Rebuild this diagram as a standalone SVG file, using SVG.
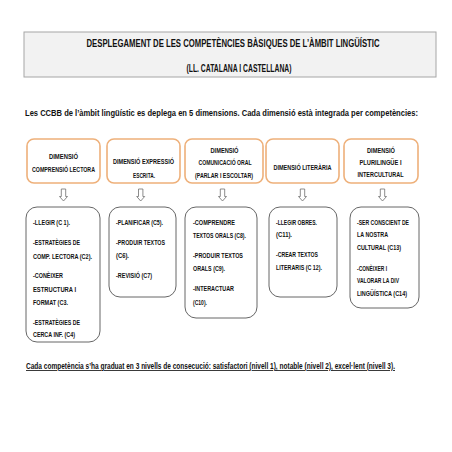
<svg xmlns="http://www.w3.org/2000/svg" width="452" height="452" viewBox="0 0 452 452">
<style>
text{font-family:"Liberation Sans Narrow","Liberation Sans","DejaVu Sans",sans-serif;font-weight:bold;fill:#111111;}
.t{font-size:10.5px;text-anchor:middle;}
.s{font-size:9.5px;}
.h{font-size:7.3px;text-anchor:middle;}
.b{font-size:7.2px;}
.f{font-size:8.3px;}
.dim{fill:#ffffff;stroke:#eeb07a;stroke-width:1.6;}
.comp{fill:#ffffff;stroke:#555555;stroke-width:0.9;}
.arr{fill:#ffffff;stroke:#6f6f6f;stroke-width:0.8;stroke-linejoin:miter;}
</style>
<defs>
<path id="darr" d="M-2.2,0 h4.4 v7.5 h1.8 l-4,4.5 l-4,-4.5 h1.8 z"/>
</defs>
<rect width="452" height="452" fill="#ffffff"/>
<g id="title">
<rect x="24" y="32" width="412" height="45" fill="#f2f2f2" stroke="#a6a6a6" stroke-width="1"/>
<text class="t" x="233" y="47" textLength="293" lengthAdjust="spacingAndGlyphs">DESPLEGAMENT DE LES COMPETÈNCIES BÀSIQUES DE L’ÀMBIT LINGÜÍSTIC</text>
<text class="t" x="239" y="71.5" textLength="105" lengthAdjust="spacingAndGlyphs">(LL. CATALANA I CASTELLANA)</text>
</g>
<g id="intro">
<text class="s" x="25" y="116" textLength="393" lengthAdjust="spacingAndGlyphs">Les CCBB de l’àmbit lingüístic es deplega en 5 dimensions. Cada dimensió està integrada per competències:</text>
</g>
<g id="dim1">
<rect class="dim" x="27" y="139" width="73" height="44" rx="7"/>
<text class="h" x="63.5" y="159" textLength="29" lengthAdjust="spacingAndGlyphs">DIMENSIÓ</text>
<text class="h" x="63.5" y="171.5" textLength="63" lengthAdjust="spacingAndGlyphs">COMPRENSIÓ LECTORA</text>
</g>
<g id="dim2">
<rect class="dim" x="107" y="139" width="73" height="44" rx="7"/>
<text class="h" x="143.5" y="164" textLength="61" lengthAdjust="spacingAndGlyphs">DIMENSIÓ EXPRESSIÓ</text>
<text class="h" x="144" y="177.5" textLength="22" lengthAdjust="spacingAndGlyphs">ESCRITA.</text>
</g>
<g id="dim3">
<rect class="dim" x="185" y="139" width="78" height="44" rx="7"/>
<text class="h" x="224.5" y="152.5" textLength="28" lengthAdjust="spacingAndGlyphs">DIMENSIÓ</text>
<text class="h" x="225" y="165" textLength="53" lengthAdjust="spacingAndGlyphs">COMUNICACIÓ ORAL</text>
<text class="h" x="224" y="178" textLength="58" lengthAdjust="spacingAndGlyphs">(PARLAR I ESCOLTAR)</text>
</g>
<g id="dim4">
<rect class="dim" x="266" y="139" width="73" height="44" rx="7"/>
<text class="h" x="302.5" y="169.5" textLength="58" lengthAdjust="spacingAndGlyphs">DIMENSIÓ LITERÀRIA</text>
</g>
<g id="dim5">
<rect class="dim" x="344" y="139" width="74" height="44" rx="7"/>
<text class="h" x="381" y="152.5" textLength="28" lengthAdjust="spacingAndGlyphs">DIMENSIÓ</text>
<text class="h" x="380.5" y="164.5" textLength="42" lengthAdjust="spacingAndGlyphs">PLURILINGÜE I</text>
<text class="h" x="380.5" y="176.5" textLength="46" lengthAdjust="spacingAndGlyphs">INTERCULTURAL</text>
</g>
<g id="connectors">
<use href="#darr" class="arr" x="63.5" y="189"/>
<use href="#darr" class="arr" x="140.7" y="189"/>
<use href="#darr" class="arr" x="222.5" y="189"/>
<use href="#darr" class="arr" x="302.5" y="189"/>
<use href="#darr" class="arr" x="382.5" y="189"/>
</g>
<g id="comp1">
<rect class="comp" x="26" y="207" width="74" height="135" rx="11"/>
<text class="b" x="33" y="224.5" textLength="37" lengthAdjust="spacingAndGlyphs">-LLEGIR (C 1).</text>
<text class="b" x="33" y="244.5" textLength="47" lengthAdjust="spacingAndGlyphs">-ESTRATÈGIES  DE</text>
<text class="b" x="33" y="258.5" textLength="59" lengthAdjust="spacingAndGlyphs">COMP. LECTORA (C2).</text>
<text class="b" x="33" y="277.5" textLength="30" lengthAdjust="spacingAndGlyphs">-CONÈIXER</text>
<text class="b" x="33" y="291.5" textLength="43" lengthAdjust="spacingAndGlyphs">ESTRUCTURA I</text>
<text class="b" x="33" y="304.5" textLength="35" lengthAdjust="spacingAndGlyphs">FORMAT (C3.</text>
<text class="b" x="33" y="324.5" textLength="47" lengthAdjust="spacingAndGlyphs">-ESTRATÈGIES DE</text>
<text class="b" x="33" y="337" textLength="42" lengthAdjust="spacingAndGlyphs">CERCA INF. (C4)</text>
</g>
<g id="comp2">
<rect class="comp" x="109" y="207" width="67" height="90" rx="11"/>
<text class="b" x="116" y="224.5" textLength="47" lengthAdjust="spacingAndGlyphs">-PLANIFICAR (C5).</text>
<text class="b" x="116" y="244.5" textLength="49" lengthAdjust="spacingAndGlyphs">-PRODUIR TEXTOS</text>
<text class="b" x="116" y="257.5" textLength="13" lengthAdjust="spacingAndGlyphs">(C6).</text>
<text class="b" x="116" y="277.5" textLength="36" lengthAdjust="spacingAndGlyphs">-REVISIÓ (C7)</text>
</g>
<g id="comp3">
<rect class="comp" x="185" y="207" width="72" height="111" rx="11"/>
<text class="b" x="193" y="224.5" textLength="42" lengthAdjust="spacingAndGlyphs">-COMPRENDRE</text>
<text class="b" x="193" y="237.5" textLength="53" lengthAdjust="spacingAndGlyphs">TEXTOS ORALS (C8).</text>
<text class="b" x="193" y="257.5" textLength="50" lengthAdjust="spacingAndGlyphs">-PRODUIR TEXTOS</text>
<text class="b" x="193" y="270.5" textLength="32" lengthAdjust="spacingAndGlyphs">ORALS (C9).</text>
<text class="b" x="193" y="290.5" textLength="41" lengthAdjust="spacingAndGlyphs">-INTERACTUAR</text>
<text class="b" x="193" y="304.5" textLength="14" lengthAdjust="spacingAndGlyphs">(C10).</text>
</g>
<g id="comp4">
<rect class="comp" x="269" y="207" width="68" height="90" rx="11"/>
<text class="b" x="276" y="224.5" textLength="41" lengthAdjust="spacingAndGlyphs">-LLEGIR OBRES.</text>
<text class="b" x="276" y="236.5" textLength="16" lengthAdjust="spacingAndGlyphs">(C11).</text>
<text class="b" x="276" y="256.5" textLength="42" lengthAdjust="spacingAndGlyphs">-CREAR TEXTOS</text>
<text class="b" x="276" y="269.5" textLength="46" lengthAdjust="spacingAndGlyphs">LITERARIS (C 12).</text>
</g>
<g id="comp5">
<rect class="comp" x="350" y="207" width="69" height="101" rx="11"/>
<text class="b" x="357" y="224.5" textLength="52" lengthAdjust="spacingAndGlyphs">-SER CONSCIENT DE</text>
<text class="b" x="357" y="236.5" textLength="31" lengthAdjust="spacingAndGlyphs">LA NOSTRA</text>
<text class="b" x="357" y="249.5" textLength="44" lengthAdjust="spacingAndGlyphs">CULTURAL (C13)</text>
<text class="b" x="357" y="270.5" textLength="30" lengthAdjust="spacingAndGlyphs">-CONÈIXER I</text>
<text class="b" x="357" y="282.5" textLength="42" lengthAdjust="spacingAndGlyphs">VALORAR LA DIV</text>
<text class="b" x="357" y="295.5" textLength="50" lengthAdjust="spacingAndGlyphs">LINGÜÍSTICA (C14)</text>
</g>
<g id="footer">
<text class="f" x="26" y="369" textLength="369" lengthAdjust="spacingAndGlyphs" text-decoration="underline">Cada competència s’ha graduat en 3 nivells de consecució: satisfactori (nivell 1), notable (nivell 2), excel·lent (nivell 3).</text>
</g>
</svg>
